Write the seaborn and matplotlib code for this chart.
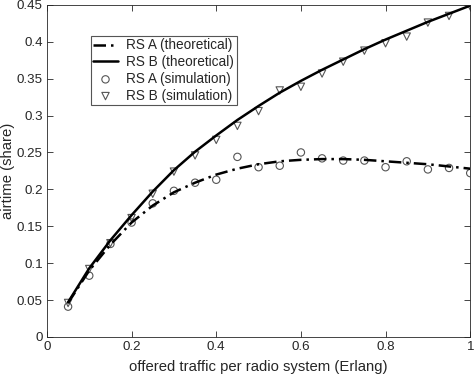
import numpy as np
import pandas as pd
import seaborn as sns
import matplotlib.pyplot as plt

# offered traffic (Erlang)
traffic = [0.05, 0.10, 0.15, 0.20, 0.25, 0.30, 0.35, 0.40, 0.45, 0.50,
           0.55, 0.60, 0.65, 0.70, 0.75, 0.80, 0.85, 0.90, 0.95, 1.00]

# theoretical curves
rs_a_theo = [0.046, 0.090, 0.125, 0.155, 0.178, 0.196, 0.209, 0.220, 0.228, 0.234,
             0.238, 0.240, 0.241, 0.241, 0.240, 0.238, 0.236, 0.234, 0.231, 0.228]
rs_b_theo = [0.047, 0.093, 0.131, 0.165, 0.197, 0.226, 0.251, 0.273, 0.294, 0.313,
             0.331, 0.347, 0.362, 0.376, 0.390, 0.403, 0.415, 0.427, 0.438, 0.449]

# simulation results
rs_a_sim = [0.041, 0.083, 0.126, 0.155, 0.181, 0.198, 0.209, 0.213, 0.244, 0.230,
            0.232, 0.250, 0.242, 0.239, 0.239, 0.230, 0.238, 0.227, 0.229, 0.222]
rs_b_sim = [0.046, 0.092, 0.127, 0.161, 0.194, 0.224, 0.246, 0.267, 0.286, 0.306,
            0.334, 0.339, 0.357, 0.373, 0.388, 0.398, 0.407, 0.426, 0.435, 0.448]

df = pd.DataFrame({
    "traffic": traffic,
    "a_theo": rs_a_theo,
    "b_theo": rs_b_theo,
    "a_sim": rs_a_sim,
    "b_sim": rs_b_sim,
})

sns.set_style("ticks")
plt.rcParams["font.family"] = ["Liberation Sans", "DejaVu Sans"]

fig = plt.figure(figsize=(4.74, 3.76), dpi=100)
ax = fig.add_axes([0.099, 0.104, 0.893, 0.883])

sns.lineplot(data=df, x="traffic", y="a_theo", ax=ax, color="black", lw=1.8,
             linestyle=(0, (5, 2, 1, 2)), label="RS A (theoretical)")
sns.lineplot(data=df, x="traffic", y="b_theo", ax=ax, color="black", lw=1.8,
             label="RS B (theoretical)")
sns.scatterplot(data=df, x="traffic", y="a_sim", ax=ax, marker="o", s=28,
                facecolor="none", edgecolor="#555555", linewidth=0.8,
                label="RS A (simulation)")
sns.scatterplot(data=df, x="traffic", y="b_sim", ax=ax, marker="v", s=28,
                facecolor="none", edgecolor="#555555", linewidth=0.8,
                label="RS B (simulation)")

ax.set_xlim(0, 1)
ax.set_ylim(0, 0.45)
ax.set_xticks([0, 0.2, 0.4, 0.6, 0.8, 1])
ax.set_xticklabels(["0", "0.2", "0.4", "0.6", "0.8", "1"])
ax.set_yticks(np.arange(0, 0.451, 0.05))
ax.set_yticklabels(["0", "0.05", "0.1", "0.15", "0.2", "0.25", "0.3", "0.35", "0.4", "0.45"])
ax.tick_params(direction="in", top=True, right=True, length=4, width=0.6,
               labelsize=9.6, pad=3)
for sp in ax.spines.values():
    sp.set_visible(True)
    sp.set_linewidth(0.6)

ax.set_xlabel("offered traffic per radio system (Erlang)", fontsize=10.7)
ax.xaxis.set_label_coords(0.5, -0.07)
ax.set_ylabel("airtime (share)", fontsize=10.7)
ax.yaxis.set_label_coords(-0.076, 0.5)

leg = ax.legend(loc="upper left", bbox_to_anchor=(0.103, 0.907), fancybox=False,
                edgecolor="#555555", framealpha=1, fontsize=9.8, handlelength=1.8,
                handletextpad=0.6, borderpad=0.2, labelspacing=0.2, borderaxespad=0)
leg.get_frame().set_linewidth(0.8)

fig.savefig("out.png", dpi=100)
